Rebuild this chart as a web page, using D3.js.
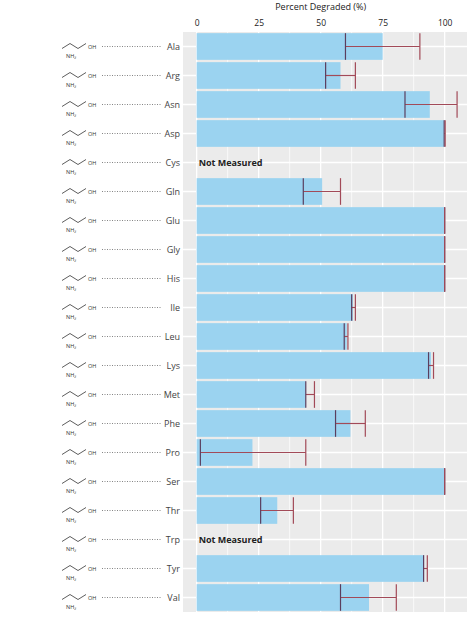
<!DOCTYPE html>
<html>
<head>
<meta charset="utf-8">
<script src="https://cdn.jsdelivr.net/npm/d3@7"></script>
<style>
  body { margin: 0; background: #fff; }
  text { font-family: "Open Sans", "DejaVu Sans", sans-serif; }
</style>
</head>
<body>
<svg id="chart" width="474" height="619"></svg>
<script>
// Amino acids, degradation (%) and error range; null = not measured
const aminoAcids = ['Ala','Arg','Asn','Asp','Cys','Gln','Glu','Gly','His','Ile','Leu','Lys','Met','Phe','Pro','Ser','Thr','Trp','Tyr','Val'];
const degraded   = [75, 58, 94, 100, null, 50.6, 100, 100, 100, 63, 60.5, 94.5, 44, 62, 22.5, 100, 32.5, null, 91.7, 69.5];
const errLow     = [60, 52, 84, 99.8, null, 43, 100, 100, 100, 62.5, 59.5, 93.5, 44, 56, 1.5, 100, 25.8, null, 91.5, 58];
const errHigh    = [90, 64, 105, 100.2, null, 58, 100, 100, 100, 64, 61, 95.5, 47.5, 68, 44, 100, 39, null, 93, 80.5];
const tickValues = [0, 25, 50, 75, 100];

const svg = d3.select('#chart');
const plotTop = 32, plotBottom = 612;

const x = d3.scaleLinear().domain([-5.5, 109]).range([183, 467]);
const y = d3.scaleBand().domain(aminoAcids).range([plotTop, plotBottom]).paddingInner(0.08).paddingOuter(0.04);

// plot background
svg.append('rect')
    .attr('x', x(-5.5)).attr('y', plotTop)
    .attr('width', x(109) - x(-5.5)).attr('height', plotBottom - plotTop)
    .attr('fill', '#ebebeb');

// vertical grid (major + minor)
d3.range(0, 101, 12.5).forEach(v => {
    svg.append('line')
        .attr('x1', x(v)).attr('x2', x(v))
        .attr('y1', plotTop).attr('y2', plotBottom)
        .attr('stroke', '#fff').attr('stroke-width', v % 25 === 0 ? 1.3 : 0.7);
});
// horizontal grid through rows
aminoAcids.forEach(a => {
    svg.append('line')
        .attr('x1', x(-5.5)).attr('x2', x(109))
        .attr('y1', y(a) + y.bandwidth() / 2).attr('y2', y(a) + y.bandwidth() / 2)
        .attr('stroke', '#fff').attr('stroke-width', 1.3);
});

// axis on top
const axis = d3.axisTop(x).tickValues(tickValues).tickSize(0).tickPadding(4);
const gAxis = svg.append('g').attr('transform', `translate(0,${plotTop - 2})`).call(axis);
gAxis.select('.domain').remove();
gAxis.selectAll('text').attr('font-size', 8.5).attr('fill', '#222');

svg.append('text')
    .attr('x', x(50)).attr('y', 10)
    .attr('text-anchor', 'middle').attr('font-size', 9).attr('fill', '#222')
    .text('Percent Degraded (%)');

// bars
aminoAcids.forEach((a, i) => {
    const cy = y(a) + y.bandwidth() / 2;
    if (degraded[i] === null) {
        svg.append('text')
            .attr('x', x(0) + 2).attr('y', cy + 3.5)
            .attr('font-size', 9).attr('font-weight', 'bold').attr('fill', '#222')
            .text('Not Measured');
    } else {
        svg.append('rect')
            .attr('x', x(0)).attr('y', y(a))
            .attr('width', x(degraded[i]) - x(0)).attr('height', y.bandwidth())
            .attr('fill', '#9bd3f0');
        // error bar
        const h = y.bandwidth() / 2;
        const g = svg.append('g').attr('stroke', '#a24a58').attr('stroke-width', 1.2);
        g.append('line').attr('x1', x(errLow[i])).attr('x2', x(errHigh[i])).attr('y1', cy).attr('y2', cy);
        g.append('line').attr('x1', x(errLow[i])).attr('x2', x(errLow[i])).attr('y1', cy - h).attr('y2', cy + h).attr('stroke', '#5a3e5e');
        g.append('line').attr('x1', x(errHigh[i])).attr('x2', x(errHigh[i])).attr('y1', cy - h).attr('y2', cy + h);
    }

    // label and dotted leader
    svg.append('text')
        .attr('x', 180).attr('y', cy + 3)
        .attr('text-anchor', 'end').attr('font-size', 9).attr('fill', '#444')
        .text(a);
    svg.append('line')
        .attr('x1', 102).attr('x2', 162).attr('y1', cy).attr('y2', cy)
        .attr('stroke', '#666').attr('stroke-width', 0.8).attr('stroke-dasharray', '1,1.5');
    // simple backbone stub standing in for the structure drawing
    const sk = svg.append('g').attr('stroke', '#333').attr('stroke-width', 0.8).attr('fill', 'none');
    sk.append('path').attr('d', `M62,${cy + 2} l8,-5 l8,5 l8,-5`);
    svg.append('text').attr('x', 88).attr('y', cy + 2).attr('font-size', 5.5).attr('fill', '#333').text('OH');
    svg.append('text').attr('x', 66).attr('y', cy + 11).attr('font-size', 5.5).attr('fill', '#333').text('NH₂');
});
</script>
</body>
</html>
